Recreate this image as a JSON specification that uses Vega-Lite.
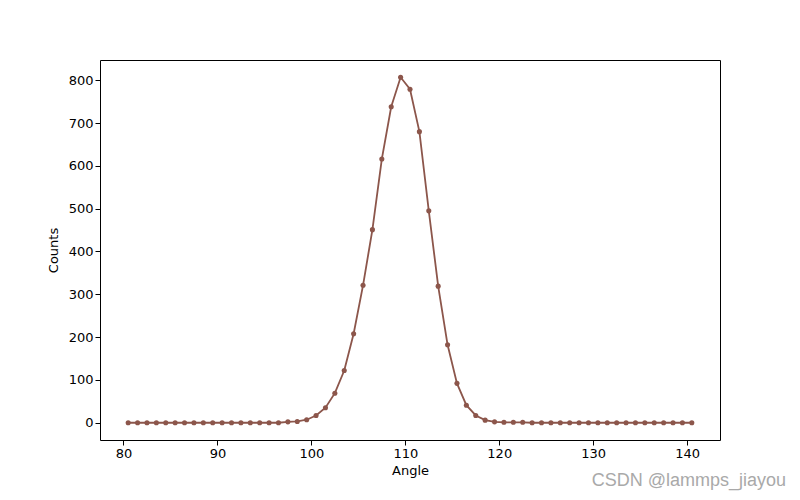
{
  "$schema": "https://vega.github.io/schema/vega-lite/v6.json",
  "width": 620,
  "height": 380,
  "autosize": "none",
  "padding": {"left": 100, "top": 60, "right": 80, "bottom": 60},
  "background": "white",
  "config": {
    "font": "DejaVu Sans",
    "view": {"stroke": "black", "strokeWidth": 1},
    "axis": {
      "grid": false,
      "domain": false,
      "tickColor": "black",
      "tickSize": 5,
      "labelColor": "black",
      "labelFontSize": 13,
      "labelFont": "DejaVu Sans",
      "titleFont": "DejaVu Sans",
      "titleFontSize": 13,
      "titleFontWeight": "normal",
      "titleColor": "black"
    }
  },
  "title": {
    "text": "CSDN @lammps_jiayou",
    "orient": "bottom",
    "anchor": "end",
    "dx": 66,
    "offset": -5,
    "fontSize": 18,
    "fontWeight": "normal",
    "color": "#a9a9a9",
    "font": "Liberation Sans"
  },
  "data": {
    "values": [
      {"angle": 80.5, "counts": 0}, {"angle": 81.5, "counts": 0}, {"angle": 82.5, "counts": 0},
      {"angle": 83.5, "counts": 0}, {"angle": 84.5, "counts": 0}, {"angle": 85.5, "counts": 0},
      {"angle": 86.5, "counts": 0}, {"angle": 87.5, "counts": 0}, {"angle": 88.5, "counts": 0},
      {"angle": 89.5, "counts": 0}, {"angle": 90.5, "counts": 0}, {"angle": 91.5, "counts": 0},
      {"angle": 92.5, "counts": 0}, {"angle": 93.5, "counts": 0}, {"angle": 94.5, "counts": 0},
      {"angle": 95.5, "counts": 0}, {"angle": 96.5, "counts": 0}, {"angle": 97.5, "counts": 2},
      {"angle": 98.5, "counts": 3}, {"angle": 99.5, "counts": 7}, {"angle": 100.5, "counts": 17},
      {"angle": 101.5, "counts": 35}, {"angle": 102.5, "counts": 69}, {"angle": 103.5, "counts": 122},
      {"angle": 104.5, "counts": 208}, {"angle": 105.5, "counts": 321}, {"angle": 106.5, "counts": 451},
      {"angle": 107.5, "counts": 616}, {"angle": 108.5, "counts": 738}, {"angle": 109.5, "counts": 807},
      {"angle": 110.5, "counts": 779}, {"angle": 111.5, "counts": 680}, {"angle": 112.5, "counts": 495},
      {"angle": 113.5, "counts": 319}, {"angle": 114.5, "counts": 182}, {"angle": 115.5, "counts": 92},
      {"angle": 116.5, "counts": 41}, {"angle": 117.5, "counts": 17}, {"angle": 118.5, "counts": 6},
      {"angle": 119.5, "counts": 2}, {"angle": 120.5, "counts": 1}, {"angle": 121.5, "counts": 1},
      {"angle": 122.5, "counts": 1}, {"angle": 123.5, "counts": 0}, {"angle": 124.5, "counts": 0},
      {"angle": 125.5, "counts": 0}, {"angle": 126.5, "counts": 0}, {"angle": 127.5, "counts": 0},
      {"angle": 128.5, "counts": 0}, {"angle": 129.5, "counts": 0}, {"angle": 130.5, "counts": 0},
      {"angle": 131.5, "counts": 0}, {"angle": 132.5, "counts": 0}, {"angle": 133.5, "counts": 0},
      {"angle": 134.5, "counts": 0}, {"angle": 135.5, "counts": 0}, {"angle": 136.5, "counts": 0},
      {"angle": 137.5, "counts": 0}, {"angle": 138.5, "counts": 0}, {"angle": 139.5, "counts": 0},
      {"angle": 140.5, "counts": 0}
    ]
  },
  "encoding": {
    "x": {
      "field": "angle",
      "type": "quantitative",
      "scale": {"domain": [77.5, 143.5], "nice": false, "zero": false},
      "axis": {"values": [80, 90, 100, 110, 120, 130, 140], "title": "Angle", "titlePadding": 4}
    },
    "y": {
      "field": "counts",
      "type": "quantitative",
      "scale": {"domain": [-40.35, 847.35], "nice": false, "zero": false},
      "axis": {"values": [0, 100, 200, 300, 400, 500, 600, 700, 800], "title": "Counts", "titlePadding": 8}
    }
  },
  "layer": [
    {"mark": {"type": "line", "color": "#8c564b", "strokeWidth": 1.8}},
    {"mark": {"type": "circle", "color": "#8c564b", "opacity": 1, "size": 26}}
  ]
}
